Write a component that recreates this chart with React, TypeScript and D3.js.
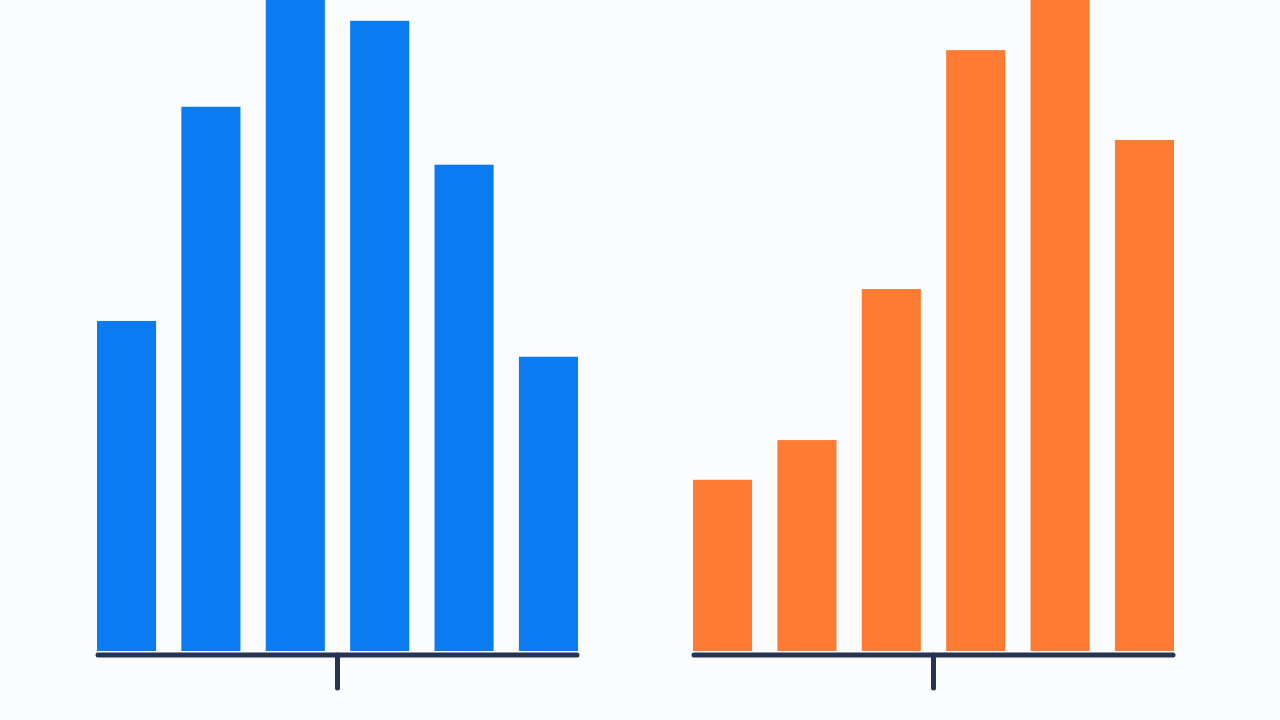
import React, { useRef, useEffect } from 'react';
import * as d3 from 'd3';

const categories = ['A', 'B', 'C', 'D', 'E', 'F'];
const groups = ['left', 'right'];
const blueValues = [50.7, 83.6, 106, 96.8, 74.7, 45.2];
const orangeValues = [26.3, 32.4, 55.6, 92.3, 106, 78.5];
const colors = ['#0a7bf0', '#fd7b33'];

const W = 1280;
const H = 720;

const App: React.FC = () => {
  const svgRef = useRef<SVGSVGElement>(null);

  useEffect(() => {
    const svg = d3.select(svgRef.current);
    svg.selectAll('*').remove();

    svg.append('rect')
      .attr('width', W)
      .attr('height', H)
      .attr('fill', '#fbfcfd');

    const baseline = 651;
    const yScale = d3.scaleLinear().domain([0, 100]).range([baseline, 0]);

    // two panels: 97..578 and 694..1174
    const panels = d3.scaleBand<string>()
      .domain(groups)
      .range([97, 1174])
      .paddingInner(0.193);

    const series = [blueValues, orangeValues];

    groups.forEach((grp, gi) => {
      const x0 = panels(grp) || 0;
      const xScale = d3.scaleBand<string>()
        .domain(categories)
        .range([x0, x0 + panels.bandwidth()])
        .paddingInner(0.3)
        .paddingOuter(0);

      const g = svg.append('g');

      g.selectAll('rect.bar')
        .data(series[gi])
        .enter().append('rect')
        .attr('class', 'bar')
        .attr('x', (_, i) => xScale(categories[i]) || 0)
        .attr('y', d => yScale(d))
        .attr('width', xScale.bandwidth())
        .attr('height', d => baseline - yScale(d))
        .attr('fill', colors[gi]);

      // axis line
      g.append('line')
        .attr('x1', x0 + 1)
        .attr('x2', x0 + panels.bandwidth() - 1)
        .attr('y1', baseline + 4)
        .attr('y2', baseline + 4)
        .attr('stroke', '#263452')
        .attr('stroke-width', 5)
        .attr('stroke-linecap', 'round');

      // center tick
      const cx = x0 + panels.bandwidth() / 2;
      g.append('line')
        .attr('x1', cx)
        .attr('x2', cx)
        .attr('y1', baseline + 4)
        .attr('y2', 688)
        .attr('stroke', '#263452')
        .attr('stroke-width', 5)
        .attr('stroke-linecap', 'round');
    });
  }, []);

  return (
    <div style={{ position: 'fixed', left: 0, top: 0, width: W, height: H }}>
      <svg ref={svgRef} width={W} height={H} style={{ display: 'block' }}></svg>
    </div>
  );
};

export default App;
